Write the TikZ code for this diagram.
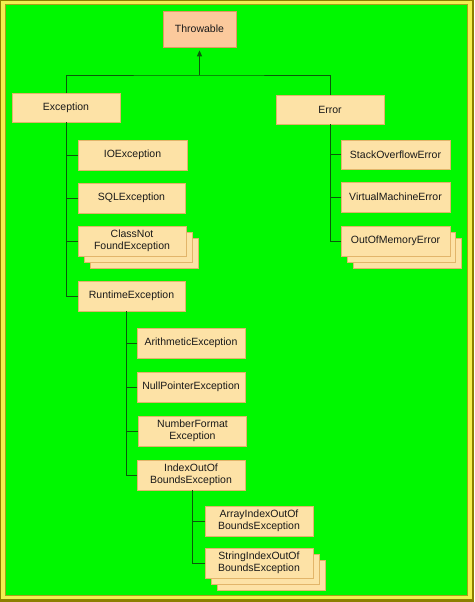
\documentclass[tikz,border=0pt]{standalone}
\usepackage{fontspec}
\setmainfont{Liberation Sans}
\usetikzlibrary{arrows.meta}
\definecolor{bgyellow}{HTML}{F2EE50}
\definecolor{olive}{HTML}{8C8000}
\definecolor{bggreen}{HTML}{00F800}
\definecolor{boxfill}{HTML}{FDE2A6}
\definecolor{boxline}{HTML}{E2B56A}
\definecolor{topfill}{HTML}{FBC99C}
\definecolor{topline}{HTML}{E09A60}
\definecolor{linkc}{HTML}{0A5A0A}
\tikzset{
  cls/.style={draw=boxline, fill=boxfill, line width=0.8pt, minimum width=108pt, minimum height=30pt,
    inner sep=0pt, align=center, font=\fontsize{10.5}{12.5}\selectfont, text=black!90},
  topcls/.style={cls, fill=topfill, draw=topline, minimum width=73pt, minimum height=36pt},
  link/.style={draw=linkc, line width=0.9pt},
  stackc/.style={draw=boxline, fill=boxfill, line width=0.8pt}
}
\newcommand{\stackbehind}[3]{% center x, center y, name
  \path[stackc] (#1-54+12,#2-15+12) rectangle (#1+54+12,#2+15+12);
  \path[stackc] (#1-54+6,#2-15+6) rectangle (#1+54+6,#2+15+6);
}
\begin{document}
\begin{tikzpicture}[x=1pt,y=-1pt]
\useasboundingbox (0,0) rectangle (474,602);
\fill[olive] (0,0) rectangle (474,602);
\fill[bgyellow] (1,1) rectangle (472,599);
\fill[olive!70!bgyellow] (5,4) rectangle (468,596);
\fill[bggreen] (6,5) rectangle (467,595);

\node[topcls] (thr) at (199.5,29) {Throwable};
\node[cls, minimum height=29pt] (exc) at (66,107.5) {Exception};
\node[cls, minimum height=29pt] (err) at (330,109.5) {Error};

\node[cls, minimum width=109pt] (ioe) at (132.5,155) {IOException};
\node[cls, minimum width=107pt] (sql) at (131.5,198) {SQLException};
\stackbehind{132}{241}{cnf}
\node[cls] (cnf) at (132,241) {ClassNot\\FoundException};
\node[cls, minimum width=107pt] (rte) at (131.5,296) {RuntimeException};

\node[cls] (ari) at (191,343) {ArithmeticException};
\node[cls] (npe) at (191,387) {NullPointerException};
\node[cls] (nfe) at (192.5,431) {NumberFormat\\Exception};
\node[cls] (ioob) at (191,475) {IndexOutOf\\BoundsException};

\node[cls, minimum width=109pt, minimum height=29pt] (soe) at (395.5,154.5) {StackOverflowError};
\node[cls, minimum width=109pt] (vme) at (395.5,197) {VirtualMachineError};
\stackbehind{395.5}{241}{oom}
\node[cls, minimum width=109pt] (oom) at (395.5,241) {OutOfMemoryError};

\node[cls] (aioob) at (259,521) {ArrayIndexOutOf\\BoundsException};
\stackbehind{259}{563}{sioob}
\node[cls] (sioob) at (259,563) {StringIndexOutOf\\BoundsException};

% top links
\coordinate (j) at (199.5,75);
\draw[link] (exc.north) |- (j) -| (err.north);
\draw[link, -{Triangle[length=6pt,width=5pt]}, shorten >=3pt] (j) -- (thr.south);

% Exception children
\foreach \c in {ioe,sql,cnf,rte} \draw[link] (exc.south) |- (\c.west);
% Error children
\foreach \c in {soe,vme,oom} \draw[link] (err.south) |- (\c.west);
% Runtime children
\coordinate (rt) at ([xshift=-5.5pt]rte.south);
\foreach \c in {ari,npe,nfe,ioob} \draw[link] (rt) |- (\c.west);
% IndexOutOfBounds children
\coordinate (ib) at ([xshift=1.5pt]ioob.south);
\foreach \c in {aioob,sioob} \draw[link] (ib) |- (\c.west);
\end{tikzpicture}
\end{document}
